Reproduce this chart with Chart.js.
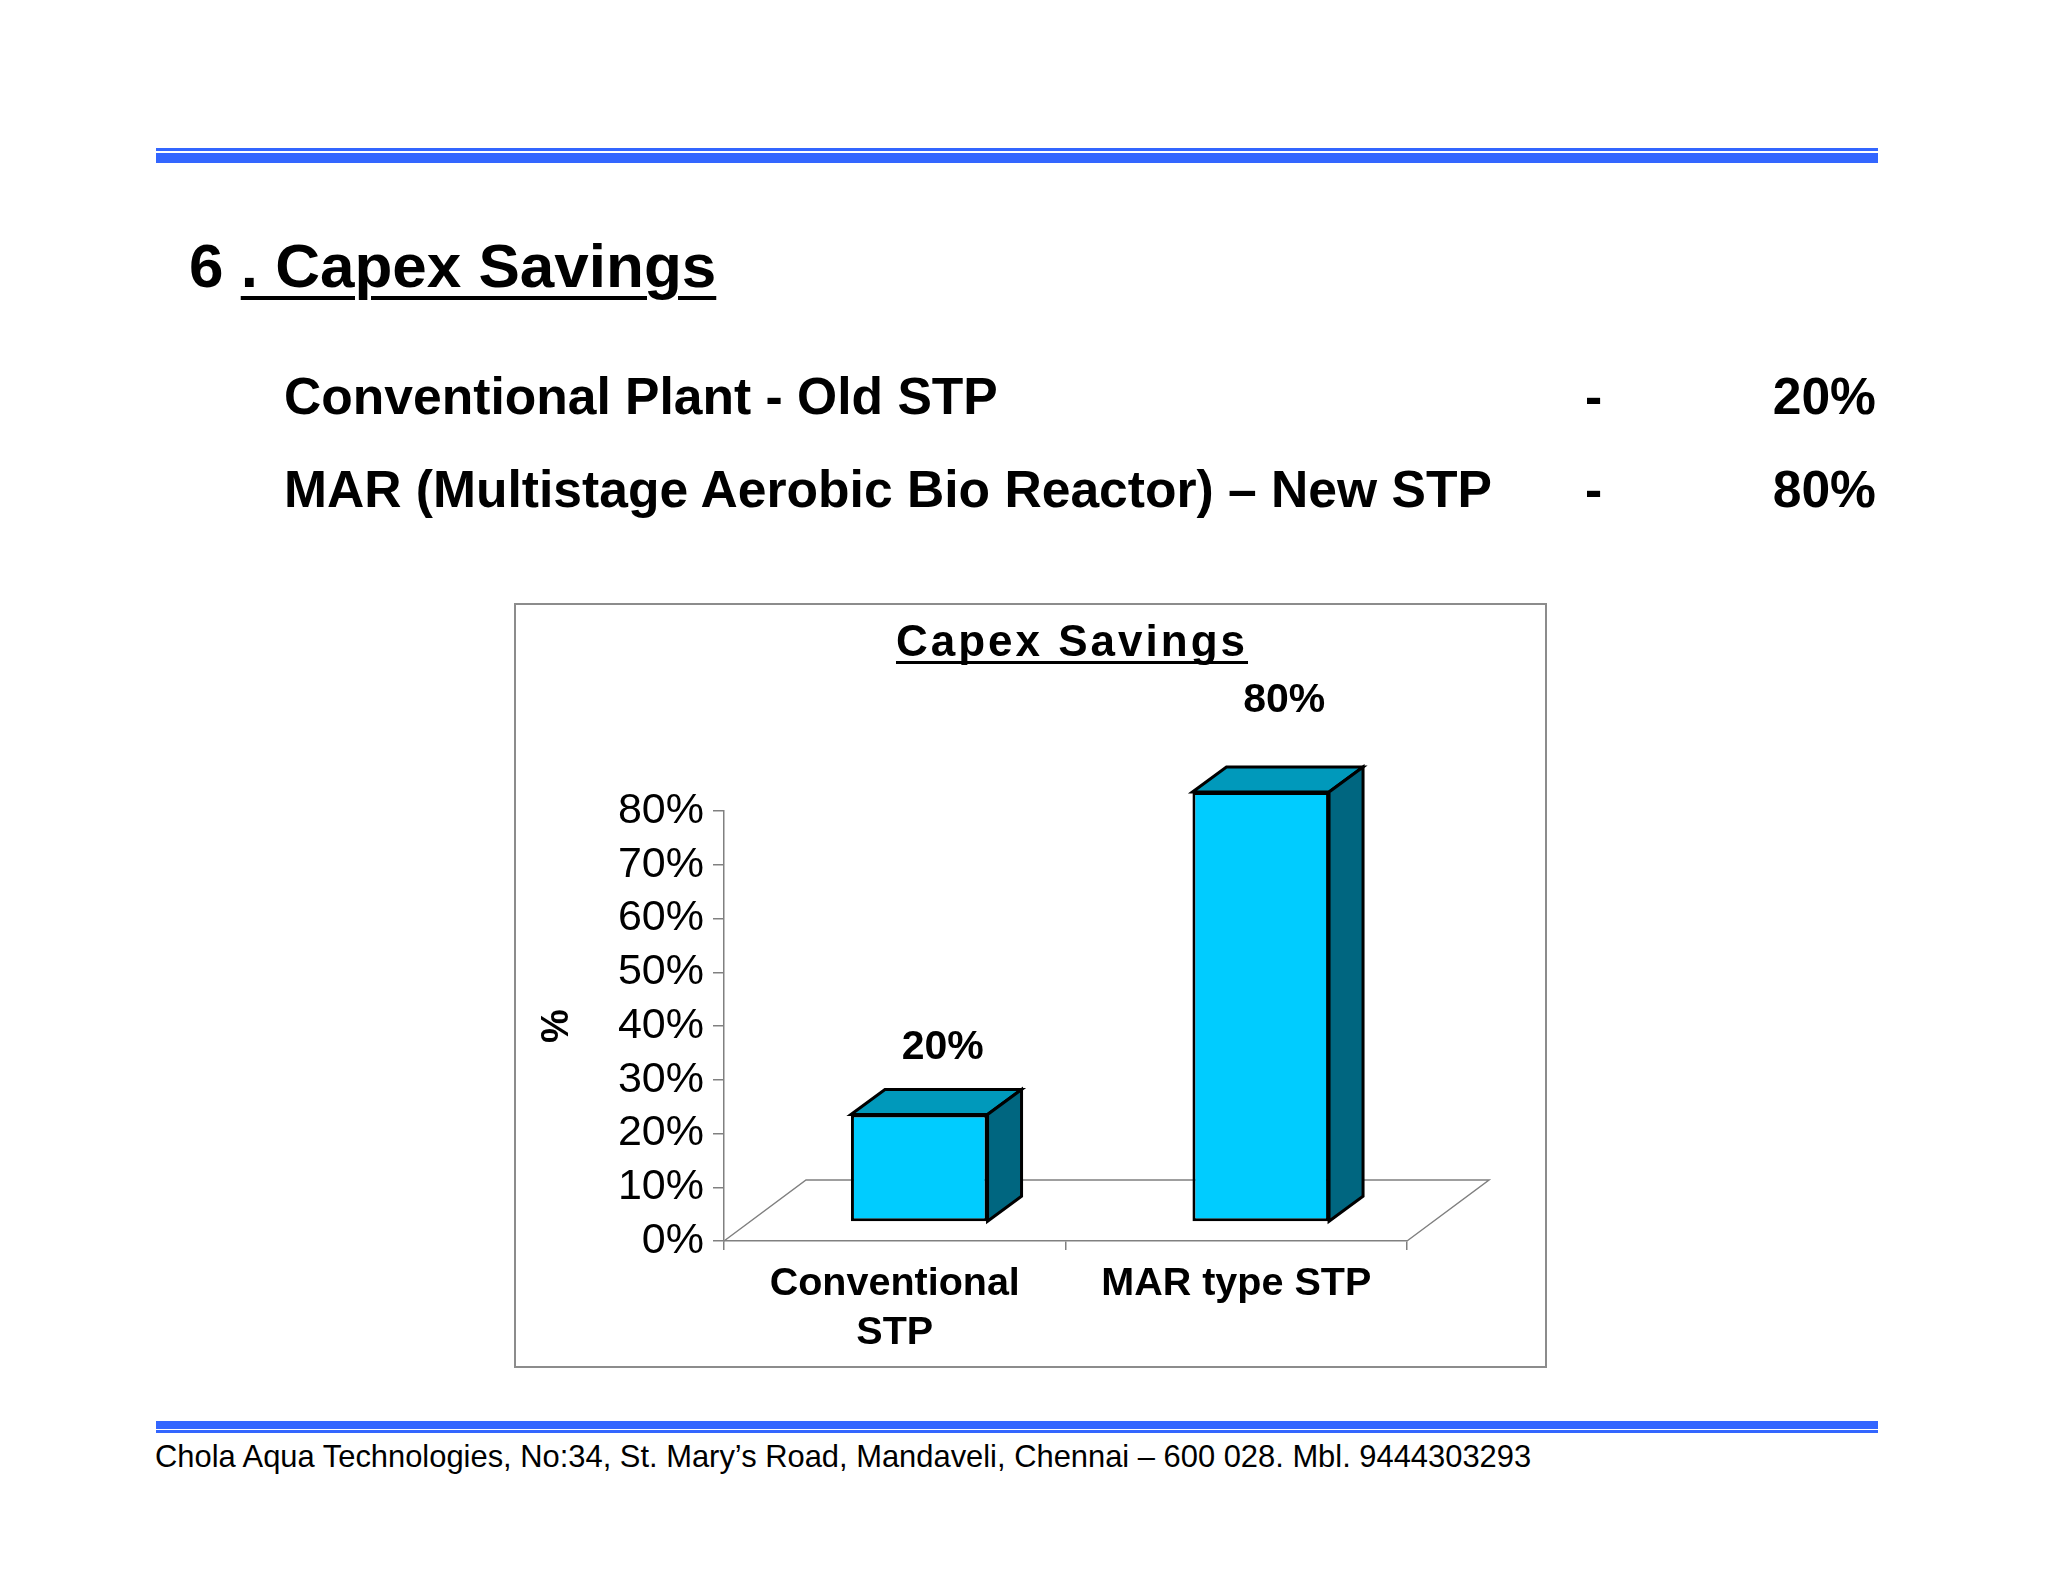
<!DOCTYPE html>
<html>
<head>
<meta charset="utf-8">
<script src="https://cdn.jsdelivr.net/npm/chart.js@4.4.1/dist/chart.umd.min.js"></script>
<style>
  html, body { margin: 0; padding: 0; background: #fff; }
  body { width: 2048px; height: 1582px; position: relative; overflow: hidden;
         font-family: "Liberation Sans", Arial, sans-serif; color: #000; }
  .abs { position: absolute; white-space: nowrap; line-height: 1; }
  .rule { position: absolute; left: 156px; width: 1722px; background: #3366ff; }
  #heading { left: 189px; top: 235px; font-size: 62px; font-weight: bold; }
  #heading u { text-decoration-thickness: 4px; text-underline-offset: 9px; }
  .row { font-size: 51.6px; font-weight: bold; }
  #footer { left: 155px; top: 1442px; font-size: 30.9px; }
  #chartBox { position: absolute; left: 514px; top: 603px; width: 1033px; height: 765px;
              border: 2px solid #8c8c8c; box-sizing: border-box; pointer-events: none; }
  #capex { position: absolute; left: 515px; top: 604px; }
</style>
</head>
<body>
<div class="rule" style="top:148px;height:3px;"></div>
<div class="rule" style="top:153px;height:10px;"></div>

<div id="heading" class="abs">6 <u>. Capex Savings</u></div>

<div class="abs row" style="left:284px;top:371px;">Conventional Plant - Old STP</div>
<div class="abs row" style="left:1585px;top:371px;">-</div>
<div class="abs row" style="right:172px;top:371px;">20%</div>
<div class="abs row" style="left:284px;top:464px;">MAR (Multistage Aerobic Bio Reactor) – New STP</div>
<div class="abs row" style="left:1585px;top:464px;">-</div>
<div class="abs row" style="right:172px;top:464px;">80%</div>

<canvas id="capex" width="1031" height="763"></canvas>
<div id="chartBox"></div>

<div class="rule" style="top:1421px;height:8px;"></div>
<div class="rule" style="top:1430px;height:3px;"></div>
<div id="footer" class="abs">Chola Aqua Technologies, No:34, St. Mary’s Road, Mandaveli, Chennai – 600 028. Mbl. 9444303293</div>

<script>
const chartTitle = "Capex Savings";
const categories = [["Conventional", "STP"], "MAR type STP"];
const savings = [20, 80];
const yMax = 80;
const yStep = 10;
const yAxisTitle = "%";

const FONT = "'Liberation Sans', Arial, sans-serif";
const DEPTH_X = 82, DEPTH_Y = 61;   // full floor depth
const SHIFT_X = 24.5, SHIFT_Y = 19; // where the bars sit in depth
const BAR_DX = 34, BAR_DY = 25;     // bar thickness in depth

const box3d = {
  id: "box3d",
  beforeDatasetsDraw(chart) {
    const ctx = chart.ctx;
    const { left, right } = chart.scales.x;
    const y0 = chart.scales.y.getPixelForValue(0);
    ctx.save();
    ctx.strokeStyle = "#808080";
    ctx.lineWidth = 1.5;
    ctx.beginPath();
    ctx.moveTo(left, y0);
    ctx.lineTo(left + DEPTH_X, y0 - DEPTH_Y);
    ctx.lineTo(right + DEPTH_X, y0 - DEPTH_Y);
    ctx.lineTo(right, y0);
    ctx.stroke();
    ctx.restore();
    ctx.save();
    ctx.translate(SHIFT_X, -SHIFT_Y);
  },
  afterDatasetsDraw(chart) {
    const ctx = chart.ctx;
    const meta = chart.getDatasetMeta(0);
    ctx.lineWidth = 3;
    ctx.lineJoin = "miter";
    ctx.strokeStyle = "#000";
    meta.data.forEach((bar) => {
      const { x, y, base, width } = bar.getProps(["x", "y", "base", "width"], true);
      const l = x - width / 2, r = x + width / 2;
      // top face
      ctx.beginPath();
      ctx.moveTo(l, y);
      ctx.lineTo(l + BAR_DX, y - BAR_DY);
      ctx.lineTo(r + BAR_DX, y - BAR_DY);
      ctx.lineTo(r, y);
      ctx.closePath();
      ctx.fillStyle = "#0099bb";
      ctx.fill();
      ctx.stroke();
      // side face
      ctx.beginPath();
      ctx.moveTo(r, y);
      ctx.lineTo(r + BAR_DX, y - BAR_DY);
      ctx.lineTo(r + BAR_DX, base - BAR_DY);
      ctx.lineTo(r, base);
      ctx.closePath();
      ctx.fillStyle = "#006680";
      ctx.fill();
      ctx.stroke();
    });
    ctx.restore();

    // value labels, placed the way the 3D view lifts them
    ctx.save();
    ctx.font = "bold 41px " + FONT;
    ctx.fillStyle = "#000";
    ctx.textAlign = "center";
    ctx.textBaseline = "middle";
    meta.data.forEach((bar, i) => {
      const h = bar.base - bar.y;
      ctx.fillText(savings[i] + "%", bar.x + 48, bar.y - 78 - 0.075 * h);
    });
    ctx.restore();
  },
  afterDraw(chart) {
    const ctx = chart.ctx;
    ctx.save();
    ctx.font = "bold 44px " + FONT;
    ctx.letterSpacing = "3px";
    ctx.fillStyle = "#000";
    ctx.textAlign = "center";
    ctx.textBaseline = "middle";
    const cx = 557, cy = 40;
    ctx.fillText(chartTitle, cx, cy);
    const w = ctx.measureText(chartTitle).width;
    ctx.fillRect(cx - w / 2, 57, w, 3);
    ctx.restore();
  }
};

new Chart(document.getElementById("capex"), {
  type: "bar",
  data: {
    labels: categories,
    datasets: [{
      data: savings,
      backgroundColor: "#00ccff",
      borderColor: "#000",
      borderWidth: 3,
      borderSkipped: false,
      barPercentage: 0.4,
      categoryPercentage: 1,
      clip: false
    }]
  },
  options: {
    responsive: false,
    animation: false,
    devicePixelRatio: 1,
    layout: { padding: { top: 207, right: 139, left: 0, bottom: 0 } },
    plugins: { legend: { display: false }, title: { display: false }, tooltip: { enabled: false } },
    scales: {
      x: {
        afterFit(s) { s.height = 126; },
        grid: { drawOnChartArea: false, drawTicks: true, tickLength: 9, color: "#808080", lineWidth: 1.5 },
        border: { color: "#808080", width: 1.5 },
        ticks: { color: "#000", padding: 9, font: { family: FONT, size: 39.5, weight: "bold", lineHeight: 1.25 } }
      },
      y: {
        min: 0,
        max: yMax,
        afterFit(s) { s.width = 209; },
        grid: { drawOnChartArea: false, drawTicks: true, tickLength: 11, color: "#808080", lineWidth: 1.5 },
        border: { color: "#808080", width: 1.5 },
        ticks: { stepSize: yStep, autoSkip: false, color: "#000", padding: 9,
                 font: { family: FONT, size: 43, lineHeight: 1 },
                 callback: (v) => v + "%" },
        title: { display: true, text: yAxisTitle, color: "#000", padding: { top: 20, bottom: 0 },
                 font: { family: FONT, size: 38, weight: "bold", lineHeight: 1.2 } }
      }
    }
  },
  plugins: [box3d]
});
</script>
</body>
</html>
